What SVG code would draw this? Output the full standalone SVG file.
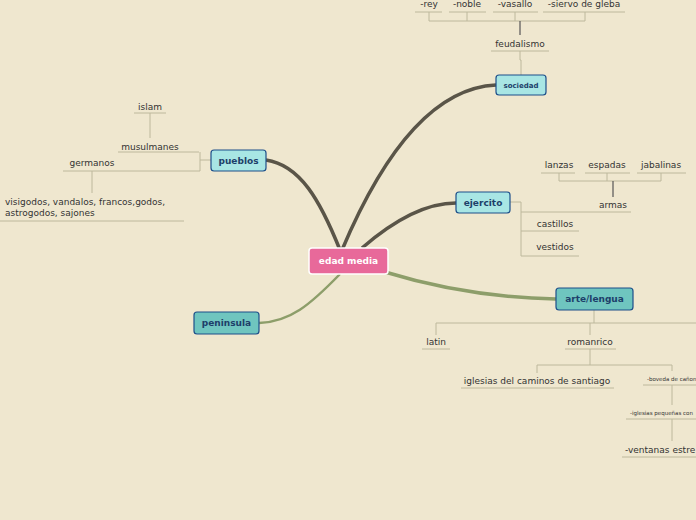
<svg xmlns="http://www.w3.org/2000/svg" width="696" height="520" viewBox="0 0 696 520">
<style>
text{font-family:"DejaVu Sans","Liberation Sans",sans-serif;font-size:9px;fill:#333}
.t{text-anchor:middle}
.s{fill:none;stroke:#bdb89c;stroke-width:1}
.d{fill:none;stroke:#555;stroke-width:1.2}
.n{fill:#a8e6e4;stroke:#1d4f8a;stroke-width:1.2}
.g{fill:#6fc5bf;stroke:#1d4f8a;stroke-width:1.2}
.nt{font-weight:bold;fill:#1d3f6a;text-anchor:middle}
</style>
<rect width="696" height="520" fill="#efe7cf"/>
<g id="connectors">
<path d="M342,250 C380,160 430,88 496,85" fill="none" stroke="#5a5548" stroke-width="3.5"/>
<path d="M340,250 C320,200 300,165 266,160" fill="none" stroke="#5a5548" stroke-width="3.5"/>
<path d="M362,248 C400,215 430,203 456,203" fill="none" stroke="#5a5548" stroke-width="3.5"/>
<path d="M385,272 C450,292 510,298 556,299" fill="none" stroke="#8d9e6a" stroke-width="3.5"/>
<path d="M340,274 C310,305 290,322 259,323" fill="none" stroke="#8d9e6a" stroke-width="2.5"/>
<path class="s" d="M415,12H442M449,12H486M493,12H538M543,12H625M429,12V21H585V12M467,12V21M515,12V21"/>
<path class="d" d="M520,21V35"/>
<path class="s" d="M491,51H549M520,51V60H521V75"/>
<path class="s" d="M134,113H166M150,113V138M118,152H199M200,152V171M63,171H200M200,160H211M92,171V193M0,221H184"/>
<path class="s" d="M510,202H521V256M595,212H631M521,212H595M521,231H579M521,256H579M541,173H575M585,173H630M637,173H686M559,173V181H661V173M607,173V181"/>
<path class="d" d="M613,181V197"/>
<path class="s" d="M594,310V323M436,323H696M436,323V335M590,323V335M422,349H450M565,349H616M590,349V365M537,365H672M537,365V373M672,365V371M461,388H614M643,385H696M672,385V405M626,419H696M672,419V441M622,457H696"/>
</g>
<g id="edad-media"><rect x="309" y="248" width="79" height="26" rx="3" fill="#e8699a" stroke="#fff" stroke-width="1.5"/><text x="348.5" y="264" class="t" style="font-weight:bold;fill:#fff">edad media</text></g>
<g id="sociedad"><rect x="496" y="75" width="50" height="20" rx="3" class="n"/><text x="521" y="88" class="nt" style="font-size:7px">sociedad</text></g>
<g id="pueblos"><rect x="211" y="150" width="55" height="21" rx="3" class="n"/><text x="238.5" y="164" class="nt">pueblos</text></g>
<g id="ejercito"><rect x="456" y="192" width="54" height="21" rx="3" class="n"/><text x="483" y="206" class="nt">ejercito</text></g>
<g id="arte-lengua"><rect x="556" y="288" width="77" height="22" rx="3" class="g"/><text x="594.5" y="302" class="nt">arte/lengua</text></g>
<g id="peninsula"><rect x="194" y="312" width="65" height="22" rx="3" class="g"/><text x="226.5" y="326" class="nt">peninsula</text></g>
<g id="labels">
<text x="429" y="7" class="t">-rey</text>
<text x="467" y="7" class="t">-noble</text>
<text x="515" y="7" class="t">-vasallo</text>
<text x="584" y="7" class="t">-siervo de gleba</text>
<text x="520" y="47" class="t">feudalismo</text>
<text x="150" y="110" class="t">islam</text>
<text x="150" y="150" class="t">musulmanes</text>
<text x="92" y="166" class="t">germanos</text>
<text x="5" y="205">visigodos, vandalos, francos,godos,</text>
<text x="5" y="216">astrogodos, sajones</text>
<text x="559" y="168" class="t">lanzas</text>
<text x="607" y="168" class="t">espadas</text>
<text x="661" y="168" class="t">jabalinas</text>
<text x="613" y="208" class="t">armas</text>
<text x="555" y="227" class="t">castillos</text>
<text x="555" y="250" class="t">vestidos</text>
<text x="436" y="345" class="t">latin</text>
<text x="590" y="345" class="t">romanrico</text>
<text x="537" y="384" class="t">iglesias del caminos de santiago</text>
<text x="647" y="381" style="font-size:5.5px">-boveda de cañon</text>
<text x="630" y="415" style="font-size:5.5px">-iglesias pequeñas con </text>
<text x="625" y="453">-ventanas estre</text>
</g>
</svg>
